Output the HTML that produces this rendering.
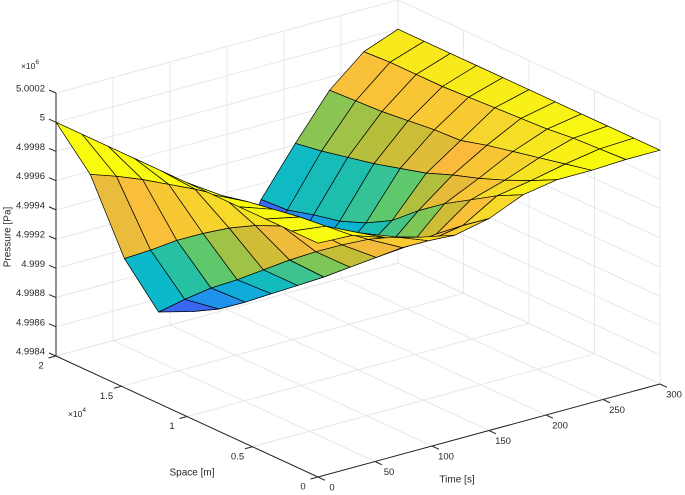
<!DOCTYPE html>
<html><head><meta charset="utf-8"><style>
html,body{margin:0;padding:0;background:#fff;}
svg{display:block;font-family:"Liberation Sans",Arial,sans-serif;}
</style></head><body>
<svg id="chart" width="685" height="495" viewBox="0 0 685 495" xmlns="http://www.w3.org/2000/svg">
<g id="grid"></g>
<g id="surface"></g>
<g id="axes"></g>
<text x="30" y="66" text-anchor="middle" font-size="8.5" fill="#262626" dominant-baseline="central">×10<tspan dy="-4" font-size="6.5">6</tspan></text>
<text x="77" y="414" text-anchor="middle" font-size="8.5" fill="#262626" dominant-baseline="central">×10<tspan dy="-4" font-size="6.5">4</tspan></text>
<text x="0" y="0" transform="translate(8,237) rotate(-90)" text-anchor="middle" font-size="10" fill="#262626" dominant-baseline="central">Pressure [Pa]</text>
<text x="457" y="480" text-anchor="middle" font-size="10" fill="#262626" dominant-baseline="central">Time [s]</text>
<text x="192" y="473" text-anchor="middle" font-size="10" fill="#262626" dominant-baseline="central">Space [m]</text>
</svg>
<script>
const time=[0,30,60,90,120,150,180,210,240,270,300];
const space=[0,2000,4000,6000,8000,10000,12000,14000,16000,18000,20000];
const p000=[5,5,5,5,5,5,5,5,5,5,5];
const p030=[4.99999,4.99997,4.99995,4.99992,4.99989,4.99985,4.99981,4.99976,4.99971,4.99965,4.99958];
const p060=[4.99991,4.99986,4.99980,4.99973,4.99966,4.99958,4.99948,4.99936,4.99923,4.99908,4.99894];
const p090=[4.99985,4.99977,4.99967,4.99955,4.99942,4.99928,4.99913,4.99898,4.99884,4.99868,4.99851];
const p120=[4.99980,4.99968,4.99955,4.99940,4.99925,4.99910,4.99896,4.99882,4.99868,4.99855,4.99845];
const p150=[4.99985,4.99972,4.99958,4.99942,4.99930,4.99918,4.99905,4.99893,4.99880,4.99869,4.99860];
const p180=[4.99995,4.99986,4.99975,4.99964,4.99951,4.99936,4.99926,4.99919,4.99915,4.99910,4.99909];
const p210=[4.99999,4.99990,4.99982,4.99975,4.99969,4.99962,4.99957,4.99952,4.99948,4.99944,4.99941];
const p240=[4.99999,4.99995,4.99991,4.99987,4.99983,4.99978,4.99977,4.99975,4.99973,4.99972,4.99971];
const p270=[5.00000,4.99999,4.99998,4.99996,4.99995,4.99994,4.99993,4.99992,4.99992,4.99992,4.99991];
const p300=[5,5,5,5,5,5,5,5,5,5,5];
const pressure=[p000,p030,p060,p090,p120,p150,p180,p210,p240,p270,p300];
const zTicks=[4.9984,4.9986,4.9988,4.999,4.9992,4.9994,4.9996,4.9998,5,5.0002];
const zTickLabels=["4.9984","4.9986","4.9988","4.999","4.9992","4.9994","4.9996","4.9998","5","5.0002"];
const tTicks=[0,50,100,150,200,250,300];
const tTickLabels=["0","50","100","150","200","250","300"];
const sTicks=[0,5000,10000,15000,20000];
const sTickLabels=["0","0.5","1","1.5","2"];

const T0=0,T1=300,S0=0,S1=20000,Z0=4.9984,Z1=5.0002;
function P(t,s,z){
  const tn=(t-T0)/(T1-T0), sn=(s-S0)/(S1-S0), zn=(z-Z0)/(Z1-Z0);
  return [318+tn*342-sn*262, 477-tn*93-sn*121-zn*263];
}
function depth(t,s,z){
  const tn=(t-T0)/(T1-T0), sn=(s-S0)/(S1-S0), zn=(z-Z0)/(Z1-Z0);
  return 161*tn+210*sn-152*zn;
}
const NS="http://www.w3.org/2000/svg";
function mk(tag,attrs,parent){
  const e=document.createElementNS(NS,tag);
  for(const k in attrs) e.setAttribute(k,attrs[k]);
  parent.appendChild(e); return e;
}
const cmap=[[0,62,38,168],[0.1,70,80,240],[0.2,45,128,245],[0.3,20,162,226],[0.4,10,184,205],[0.5,36,192,165],[0.6,105,201,100],[0.7,190,190,55],[0.8,250,186,60],[0.9,246,216,42],[1,249,251,14]];
function color(v){
  v=Math.max(0,Math.min(1,v));
  for(let i=0;i<cmap.length-1;i++){
    const a=cmap[i],b=cmap[i+1];
    if(v<=b[0]){const f=(v-a[0])/(b[0]-a[0]);
      return "rgb("+[1,2,3].map(k=>Math.round(a[k]+(b[k]-a[k])*f)).join(",")+")";}
  }
  return "rgb(249,251,14)";
}
const grid=document.getElementById('grid');
const gc="#e3e3e3";
function line(p,q,parent,stroke,w){return mk('line',{x1:p[0],y1:p[1],x2:q[0],y2:q[1],stroke:stroke,'stroke-width':w},parent);}
tTicks.forEach(t=>{const l=line(P(t,S0,Z0),P(t,S1,Z0),grid,gc,0.8);

});
sTicks.forEach(s=>{const l=line(P(T0,s,Z0),P(T1,s,Z0),grid,gc,0.8);

});
tTicks.forEach(t=>{const l=line(P(t,S1,Z0),P(t,S1,Z1),grid,gc,0.8);

});
sTicks.forEach(s=>{const l=line(P(T1,s,Z0),P(T1,s,Z1),grid,gc,0.8);

});
zTicks.forEach(z=>{
  const l=line(P(T0,S1,z),P(T1,S1,z),grid,gc,0.8);
  
  
  const l2=line(P(T1,S1,z),P(T1,S0,z),grid,gc,0.8);
  
  
});
let zmin=Infinity,zmax=-Infinity;
pressure.forEach(r=>r.forEach(v=>{zmin=Math.min(zmin,v);zmax=Math.max(zmax,v);}));
const faces=[];
for(let i=0;i<time.length-1;i++){
  for(let j=0;j<space.length-1;j++){
    const c=[[i,j],[i+1,j],[i+1,j+1],[i,j+1]];
    let d=0;const pts=[];
    c.forEach(([a,b])=>{const z=pressure[a][b];d+=depth(time[a],space[b],z);pts.push(P(time[a],space[b],z));});
    faces.push({d:d/4,pts:pts,v:pressure[i][j]});
  }
}
faces.sort((a,b)=>b.d-a.d);
const surf=document.getElementById('surface');
faces.forEach(f=>{
  const pg=mk('polygon',{points:f.pts.map(p=>p[0].toFixed(1)+","+p[1].toFixed(1)).join(" "),fill:color((f.v-zmin)/(zmax-zmin)),stroke:"#000",'stroke-width':0.7,'stroke-linejoin':'round'},surf);
  
  
});
const ax=document.getElementById('axes');
const ac="#262626";
const zA=line(P(T0,S1,Z0),P(T0,S1,Z1),ax,ac,1);


const sA=line(P(T0,S1,Z0),P(T0,S0,Z0),ax,ac,1);


const tA=line(P(T0,S0,Z0),P(T1,S0,Z0),ax,ac,1);


function txt(x,y,s,anchor,size,parent){
  const e=mk('text',{x:x,y:y,'text-anchor':anchor,'font-size':size,fill:ac,'dominant-baseline':'central'},parent);
  e.textContent=s;return e;
}
zTicks.forEach((z,k)=>{
  const p=P(T0,S1,z);
  const tk=line(p,[p[0]-7,p[1]-3],ax,ac,1);
  
  
  const t=txt(p[0]-11,p[1]-4,zTickLabels[k],'end',9.5,ax);
  
  
});
tTicks.forEach((tv,k)=>{
  const p=P(tv,S0,Z0);
  const tk=line(p,[p[0]+7,p[1]+3.3],ax,ac,1);
  
  
  const t=txt(p[0]+14,p[1]+11,tTickLabels[k],'middle',9.5,ax);
  
  
});
sTicks.forEach((sv,k)=>{
  const p=P(T0,sv,Z0);
  const tk=line(p,[p[0]-7.5,p[1]+2],ax,ac,1);
  
  
  const t=txt(p[0]-15,p[1]+10,sTickLabels[k],'middle',9.5,ax);
  
  
});
</script>
</body></html>
